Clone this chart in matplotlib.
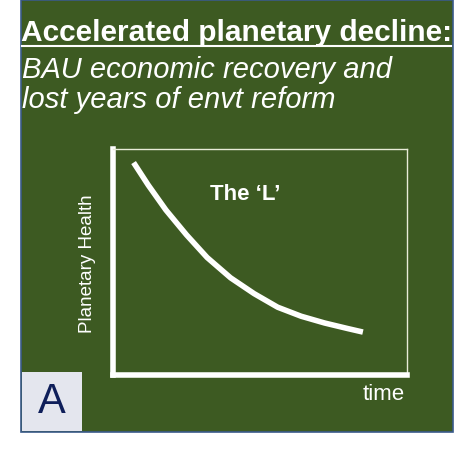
import matplotlib.pyplot as plt
from matplotlib.patches import Rectangle

# curve points (axes fraction)
curve_x = [0.07, 0.12, 0.18, 0.25, 0.32, 0.40, 0.48, 0.56, 0.64, 0.72, 0.80, 0.85]
curve_y = [0.94, 0.84, 0.73, 0.62, 0.52, 0.43, 0.36, 0.30, 0.26, 0.23, 0.205, 0.19]

title = "Accelerated planetary decline:"
subtitle = "BAU economic recovery and\nlost years of envt reform"
green = "#3d5a22"
W, H = 474, 467

fig = plt.figure(figsize=(4.74, 4.67), dpi=100)
fig.patch.set_facecolor("white")
fig.patches.append(Rectangle((21 / W, 1 - 432 / H), 432 / W, 432 / H, transform=fig.transFigure,
                             facecolor=green, edgecolor="#3a5a8a", lw=1.2, zorder=0))
fig.patches.append(Rectangle((22 / W, 1 - 431 / H), 60 / W, 59 / H, transform=fig.transFigure,
                             facecolor="#e4e6ee", edgecolor="none", zorder=1))
fig.text(52 / W, 1 - 402 / H, "A", color="#0f1f5a", fontsize=30, ha="center", va="center",
         family="Liberation Sans")

fig.text(237 / W, 1 - 33 / H, title, color="white", fontsize=21.5, weight="bold",
         ha="center", va="center", family="Liberation Sans")
fig.lines.append(plt.Line2D([22 / W, 451 / W], [1 - 46 / H, 1 - 46 / H], transform=fig.transFigure,
                            color="white", lw=1.5))
fig.text(22 / W, 1 - 85 / H, subtitle, color="white", fontsize=21, style="italic",
         ha="left", va="center", family="Liberation Sans", linespacing=1.05)

ax = fig.add_axes([113 / W, 1 - 375 / H, 294 / W, 226 / H], zorder=3)
ax.set_facecolor("none")
ax.plot(curve_x, curve_y, color="white", lw=4, solid_capstyle="butt")
ax.set_xlim(0, 1)
ax.set_ylim(0, 1)
ax.set_xticks([])
ax.set_yticks([])
for side in ["top", "right"]:
    ax.spines[side].set_color("#e8ecd8")
    ax.spines[side].set_linewidth(1)
for side in ["left", "bottom"]:
    ax.spines[side].set_color("white")
    ax.spines[side].set_linewidth(4)
ax.text(0.45, 0.80, "The \u2018L\u2019", transform=ax.transAxes, color="white", fontsize=16,
        weight="bold", ha="center", va="center", family="Liberation Sans")

fig.text(88 / W, 1 - 264 / H, "Planetary Health", color="white", fontsize=13.5, rotation=90,
         ha="center", va="center", family="Liberation Sans")
fig.text(384 / W, 1 - 394 / H, "time", color="white", fontsize=16,
         ha="center", va="center", family="Liberation Sans")

fig.savefig("out.png", dpi=100, facecolor="white")
